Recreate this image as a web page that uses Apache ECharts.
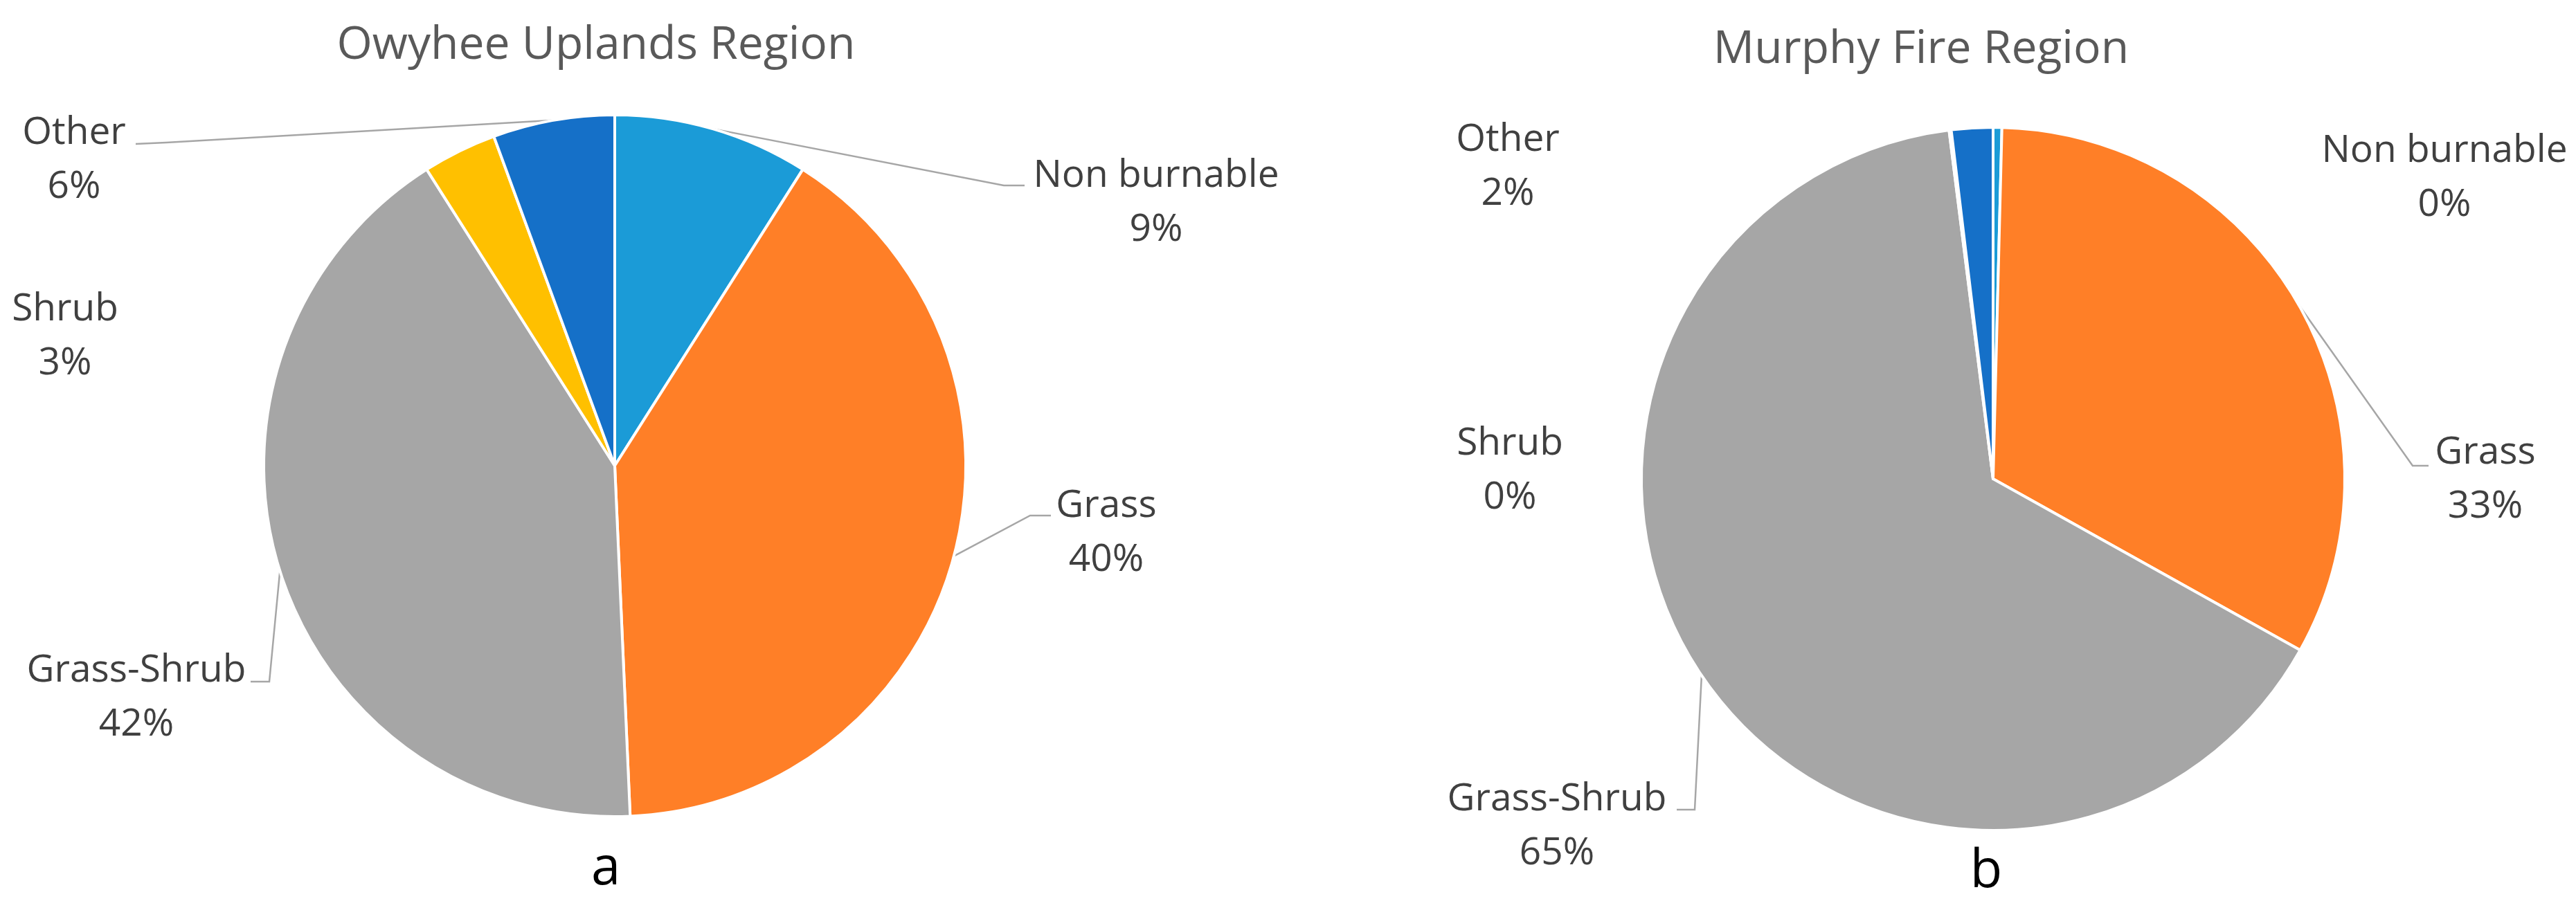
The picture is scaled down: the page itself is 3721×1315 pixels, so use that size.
<!DOCTYPE html>
<html lang="en">
<head>
    <meta charset="UTF-8">
    <title>Fuel type share by region</title>
    <script src="https://cdn.jsdelivr.net/npm/echarts@6/dist/echarts.min.js"></script>
    <style>
        body { margin: 0; background: #fff; }
    </style>
</head>
<body>
<div id="main" style="width: 3721px; height: 1315px;"></div>
<script>
    // data (percent of area)
    var categories = ['Non burnable', 'Grass', 'Grass-Shrub', 'Shrub', 'Other'];
    var owyheeValues = [9.0, 40.3, 41.7, 3.4, 5.6];
    var murphyValues = [0.4, 32.7, 64.9, 0.1, 1.9];
    var chartTitles = ['Owyhee Uplands Region', 'Murphy Fire Region'];
    var panelTags = ['a', 'b'];

    var colors = ['#1B9BD7', '#FF7F27', '#A6A6A6', '#FFC000', '#1570C8'];

    // label placement (centre of the two-line label) and leader bends
    var owyheeLabelAt = {
        'Non burnable': [1670, 293],
        'Grass': [1598, 770],
        'Grass-Shrub': [197, 1008],
        'Shrub': [94, 486],
        'Other': [107, 231]
    };
    var owyheeLeaders = {
        'Non burnable': [[1450, 268], [1480, 268]],
        'Grass': [[1488, 745], [1518, 745]],
        'Grass-Shrub': [[389, 985], [362, 985]],
        'Other': [[240, 206], [196, 208]]
    };
    var murphyLabelAt = {
        'Non burnable': [3531, 257],
        'Grass': [3590, 693],
        'Grass-Shrub': [2249, 1194],
        'Shrub': [2181, 680],
        'Other': [2178, 241]
    };
    var murphyLeaders = {
        'Grass': [[3485, 673], [3508, 673]],
        'Grass-Shrub': [[2448, 1170], [2422, 1170]]
    };

    var font = 'Open Sans, Noto Sans, sans-serif';

    function makeLayout(labelAt, leaders) {
        return function (p) {
            var name = categories[p.dataIndex];
            var pos = labelAt[name];
            var out = { x: pos[0], y: pos[1], align: 'center', verticalAlign: 'middle' };
            if (leaders[name]) {
                var start = p.labelLinePoints ? p.labelLinePoints[0] : leaders[name][0];
                out.labelLinePoints = [start].concat(leaders[name]);
            }
            return out;
        };
    }

    function makeData(values, leaders) {
        return categories.map(function (c, i) {
            return {
                name: c,
                value: values[i],
                itemStyle: { color: colors[i] },
                labelLine: { show: !!leaders[c] }
            };
        });
    }

    function pieSeries(values, center, radius, labelAt, leaders) {
        return {
            type: 'pie',
            center: center,
            radius: radius,
            startAngle: 90,
            clockwise: true,
            percentPrecision: 0,
            avoidLabelOverlap: false,
            itemStyle: { borderColor: '#fff', borderWidth: 4 },
            label: {
                show: true,
                position: 'outside',
                formatter: '{b}\n{d}%',
                fontFamily: font,
                fontSize: 55,
                lineHeight: 78,
                color: '#404040'
            },
            labelLine: {
                show: true,
                smooth: false,
                lineStyle: { color: '#A6A6A6', width: 2.5 }
            },
            labelLayout: makeLayout(labelAt, leaders),
            emphasis: { disabled: true },
            data: makeData(values, leaders)
        };
    }

    function titleAt(text, x, y, size, color) {
        return {
            text: text,
            left: x,
            top: y,
            textAlign: 'center',
            padding: 0,
            textStyle: { fontFamily: font, fontSize: size, color: color, fontWeight: 'normal' }
        };
    }

    var myChart = echarts.init(document.getElementById('main'));
    var option = {
        animation: false,
        backgroundColor: '#fff',
        title: [
            titleAt(chartTitles[0], 861, 33, 66, '#595959'),
            titleAt(chartTitles[1], 2775, 39, 66, '#595959'),
            titleAt(panelTags[0], 875, 1218, 76, '#000'),
            titleAt(panelTags[1], 2869, 1222, 76, '#000')
        ],
        series: [
            pieSeries(owyheeValues, [888, 673], 507, owyheeLabelAt, owyheeLeaders),
            pieSeries(murphyValues, [2879, 692], 508, murphyLabelAt, murphyLeaders)
        ]
    };
    myChart.setOption(option);
</script>
</body>
</html>
